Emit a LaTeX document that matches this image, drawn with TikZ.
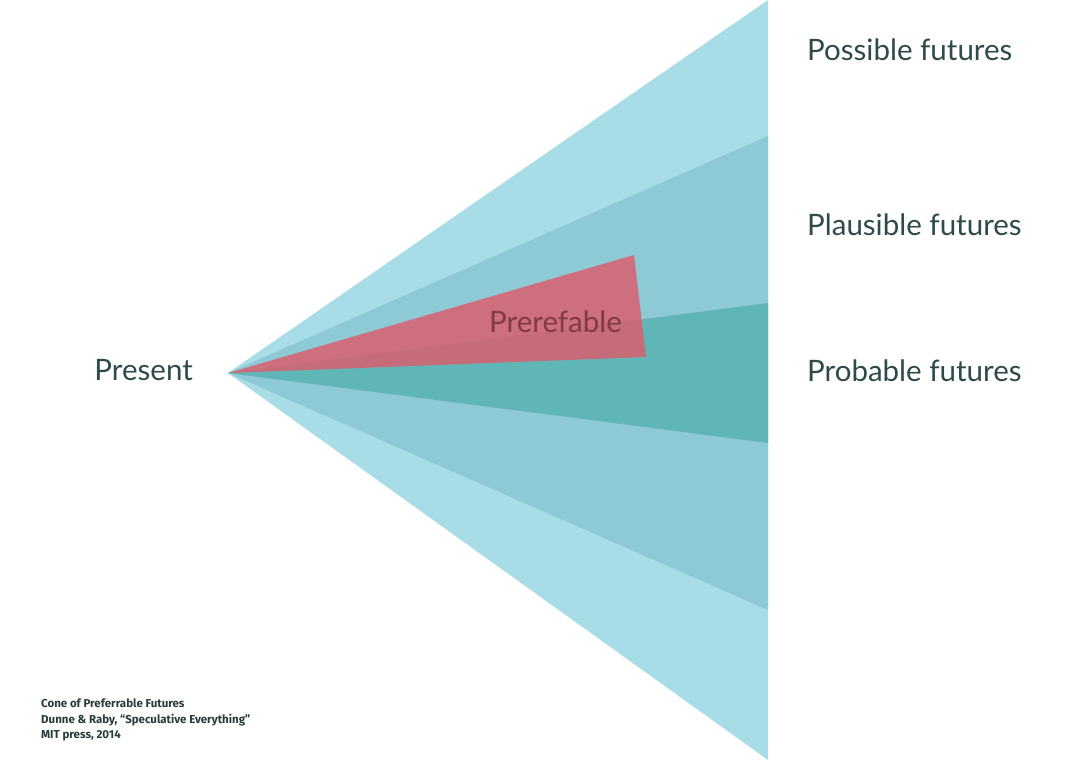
\documentclass[tikz,border=0pt]{standalone}
\usepackage{fontspec}
\setmainfont{Lato}
\newfontfamily\legende{Fira Sans}
\definecolor{possible}{HTML}{A8DCE7}
\definecolor{plausible}{HTML}{8ECAD5}
\definecolor{probable}{HTML}{60B5B7}
\definecolor{prefere}{HTML}{D9606F}
\definecolor{texte}{HTML}{2E4A4B}
\begin{document}
\begin{tikzpicture}[x=1pt,y=-1pt]
			% Styles
			\tikzstyle{cone}=[draw=none]
			\tikzstyle{etiquette}=[texte,anchor=west,inner sep=0pt,font=\fontsize{29.5}{33}\selectfont]
			\tikzstyle{legende}=[texte!80!black,anchor=north west,inner sep=0pt,align=left,font=\legende\bfseries\fontsize{11.5}{15.5}\selectfont]
			% Dimensions
			\def\Horizon{768}
			\useasboundingbox (0,0) rectangle (1074,760);
			% Sommets
			\coordinate (P) at (228,373);
			\coordinate (PosH) at (\Horizon,0);
			\coordinate (PosB) at (\Horizon,760);
			\coordinate (PlaH) at (\Horizon,136);
			\coordinate (PlaB) at (\Horizon,610);
			\coordinate (ProH) at (\Horizon,303);
			\coordinate (ProB) at (\Horizon,443);
			\coordinate (PrefH) at (634,255);
			\coordinate (PrefB) at (646,357);
			% Cones
			\fill[cone,possible] (P)--(PosH)--(PosB)--cycle;
			\fill[cone,plausible] (P)--(PlaH)--(PlaB)--cycle;
			\fill[cone,probable] (P)--(ProH)--(ProB)--cycle;
			\fill[cone,prefere,opacity=0.85] (P)--(PrefH)--(PrefB)--cycle;
			% Textes
			\node[etiquette,anchor=east] (present) at (193,370) {Present};
			\node[etiquette] (possible) at (807,50) {Possible futures};
			\node[etiquette] (plausible) at (807,225) {Plausible futures};
			\node[etiquette] (probable) at (807,371) {Probable futures};
			\node[etiquette,text=prefere!60!black] (prefere) at (489,322) {Prerefable};
			\node[legende] (source) at (41,699) {Cone of Preferrable Futures\\Dunne \& Raby, “Speculative Everything”\\MIT press, 2014};
		\end{tikzpicture}
\end{document}
